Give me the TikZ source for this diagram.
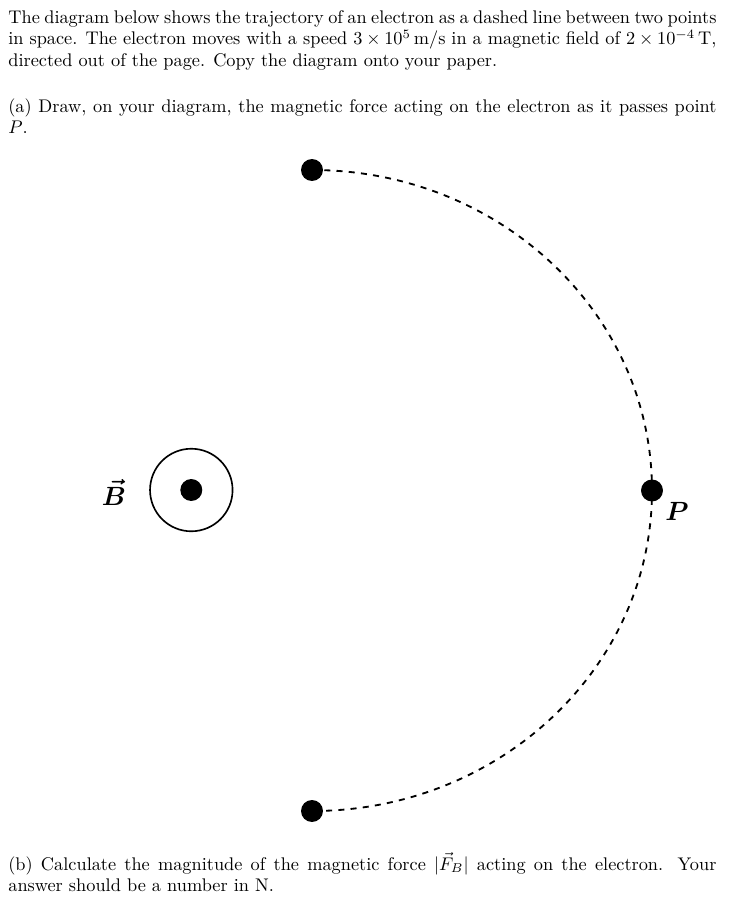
\documentclass[tikz,border=0pt]{standalone}
\usepackage{amsmath}
\tikzset{
  dot/.style={circle,fill=black,inner sep=0pt,minimum size=12pt},
  traj/.style={line width=1pt,dash pattern=on 3.3pt off 3.4pt},
  para/.style={anchor=base west,inner sep=0pt,text width=386.9pt,align=justify},
}
\begin{document}
\begin{tikzpicture}[x=0.5464pt,y=0.5464pt]
\pgfmathsetmacro{\rx}{340}
\pgfmathsetmacro{\ry}{320.5}
\useasboundingbox (0,0) rectangle (751,-898);
% question text
\node[para] (intro) at (8,-23) {The diagram below shows the trajectory of an electron as a dashed line between two points in space. The electron moves with a speed $3\times10^{5}\,\mathrm{m/s}$ in a magnetic field of $2\times10^{-4}\,\mathrm{T}$, directed out of the page. Copy the diagram onto your paper.};
\node[para] (parta) at (8,-112) {(a) Draw, on your diagram, the magnetic force acting on the electron as it passes point $P$.};
\node[para] (partb) at (8,-870) {(b) Calculate the magnitude of the magnetic force $|\vec{F}_B|$ acting on the electron. Your answer should be a number in N.};
% field out of the page
\node[circle,draw,line width=0.9pt,minimum size=45.1pt,inner sep=0pt] (field) at (191.3,-490) {};
\node[dot] (fdot) at (field.center) {};
\node[anchor=base] (blabel) at (114,-505) {\Large$\boldsymbol{\vec{B}}$};
% trajectory
\node[dot] (top) at (312,-170) {};
\node[dot] (bot) at (312,-811) {};
\node[dot] (P) at (652,-490.5) {};
\node[anchor=base] (plabel) at (677,-520) {\Large$\boldsymbol{P}$};
\draw[traj] (top.center) arc[start angle=90,end angle=-90,x radius=\rx,y radius=\ry];
\end{tikzpicture}
\end{document}
